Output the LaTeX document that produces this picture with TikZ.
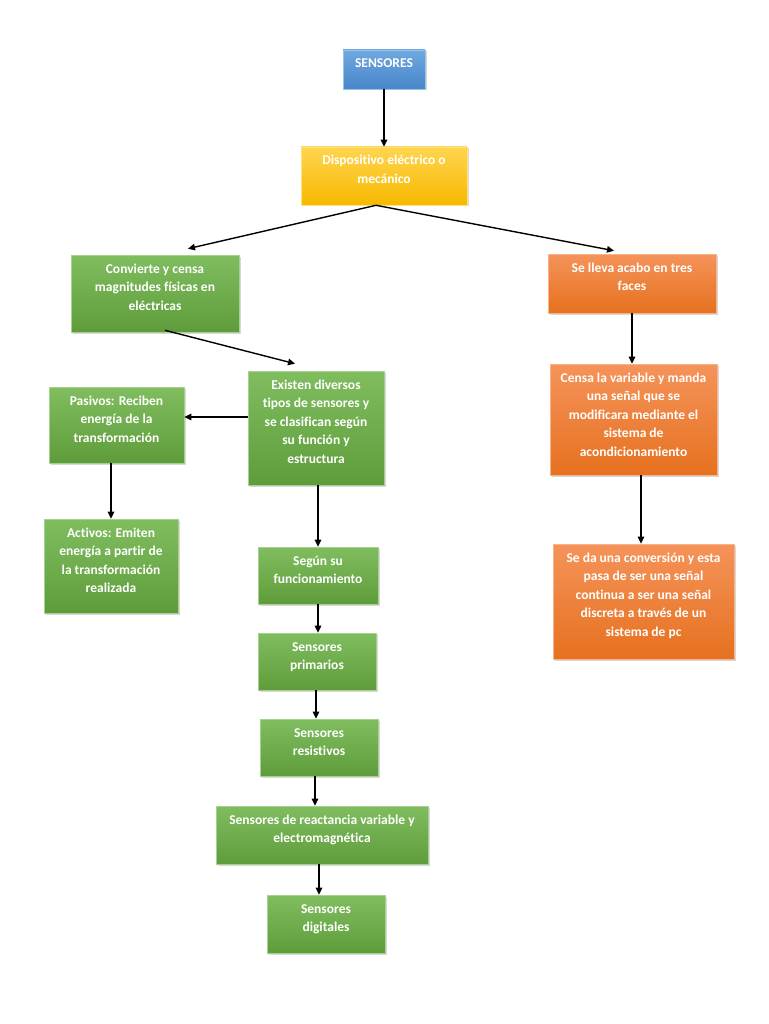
\documentclass[tikz,border=0pt]{standalone}
\usepackage{fontspec}
\setmainfont{Carlito}[Ligatures=NoCommon]
\usetikzlibrary{shadows,arrows.meta,calc}
\definecolor{blueT}{HTML}{6FA8DF}
\definecolor{blueB}{HTML}{4886CB}
\definecolor{yelT}{HTML}{FFD54F}
\definecolor{yelB}{HTML}{F7B900}
\definecolor{grnT}{HTML}{80BD5F}
\definecolor{grnB}{HTML}{5E9C3B}
\definecolor{orgT}{HTML}{F5935A}
\definecolor{orgB}{HTML}{E6711F}
\newcommand\bx[7]{%
  \node[boxst, top color=#6T, bottom color=#6B, draw=#6T!70!white,
        minimum width=#4pt, minimum height=#5pt] (#1) at (#2,#3)
  {\parbox[c][#5pt][t]{\dimexpr#4pt-6pt\relax}{\centering\rule{0pt}{18pt}#7\par}};}
\begin{document}
\begin{tikzpicture}[x=1pt,y=-1pt,
  boxst/.style={rectangle, inner xsep=3pt, inner ysep=0pt, line width=0.6pt,
    text=white, font=\fontsize{13.5}{18.5}\selectfont\bfseries,
    drop shadow={shadow xshift=1.5pt, shadow yshift=-1.5pt, opacity=0.3}},
  arr/.style={line width=1.4pt, -{Triangle[length=7pt,width=6.5pt]}}]
\useasboundingbox (0,0) rectangle (768,1024);
\fill[white] (0,0) rectangle (768,1024);

\bx{sens}{384}{69.5}{82}{39}{blue}{SENSORES}
\bx{disp}{384}{176}{166}{58}{yel}{Dispositivo eléctrico o\\mecánico}
\bx{conv}{155}{293.5}{168}{77}{grn}{Convierte y censa\\magnitudes físicas en\\eléctricas}
\bx{lleva}{632}{283.5}{168}{59}{org}{Se lleva acabo en tres\\faces}
\bx{censa}{633.5}{419.5}{167}{111}{org}{Censa la variable y manda\\una señal que se\\modificara mediante el\\sistema de\\acondicionamiento}
\bx{seda}{643.5}{601.5}{181}{115}{org}{Se da una conversión y esta\\pasa de ser una señal\\continua a ser una señal\\discreta a través de un\\sistema de pc}
\bx{exist}{316}{428}{136}{114}{grn}{Existen diversos\\tipos de sensores y\\se clasifican según\\su función y\\estructura}
\bx{pas}{116.5}{425}{135}{76}{grn}{Pasivos: Reciben\\energía de la\\transformación}
\bx{act}{111}{566}{134}{94}{grn}{Activos: Emiten\\energía a partir de\\la transformación\\realizada}
\bx{seg}{318}{575.5}{120}{57}{grn}{Según su\\funcionamiento}
\bx{prim}{317}{661.5}{118}{57}{grn}{Sensores\\primarios}
\bx{res}{319}{747.5}{118}{57}{grn}{Sensores\\resistivos}
\bx{reac}{322}{835}{212}{58}{grn}{Sensores de reactancia variable y\\electromagnética}
\bx{dig}{326}{924}{118}{58}{grn}{Sensores\\digitales}

\draw[arr] (sens.south) -- (disp.north);
\draw[arr] ($(disp.south)+(-8,0)$) -- ($(conv.north)+(33,-6)$);
\draw[arr] ($(disp.south)+(-8,0)$) -- ($(lleva.north)+(-18,-3)$);
\draw[arr] ($(conv.south)+(10,-2)$) -- ($(exist.north)+(-21,-7)$);
\draw[arr] ($(exist.west)+(0,-11)$) -- ($(pas.east)+(0,-8)$);
\draw[arr] (pas.south -| act.north) -- (act.north);
\draw[arr] (exist.south -| seg.north) -- (seg.north);
\draw[arr] (seg.south) -- (seg.south |- prim.north);
\draw[arr] ($(prim.south)+(-1,0)$) -- ($(prim.south |- res.north)+(-1,0)$);
\draw[arr] ($(res.south)+(-4,0)$) -- ($(res.south |- reac.north)+(-4,0)$);
\draw[arr] ($(reac.south)+(-3,0)$) -- ($(reac.south |- dig.north)+(-3,0)$);
\draw[arr] (lleva.south) -- (lleva.south |- censa.north);
\draw[arr] ($(censa.south)+(7.5,0)$) -- ($(censa.south |- seda.north)+(7.5,0)$);
\end{tikzpicture}
\end{document}
